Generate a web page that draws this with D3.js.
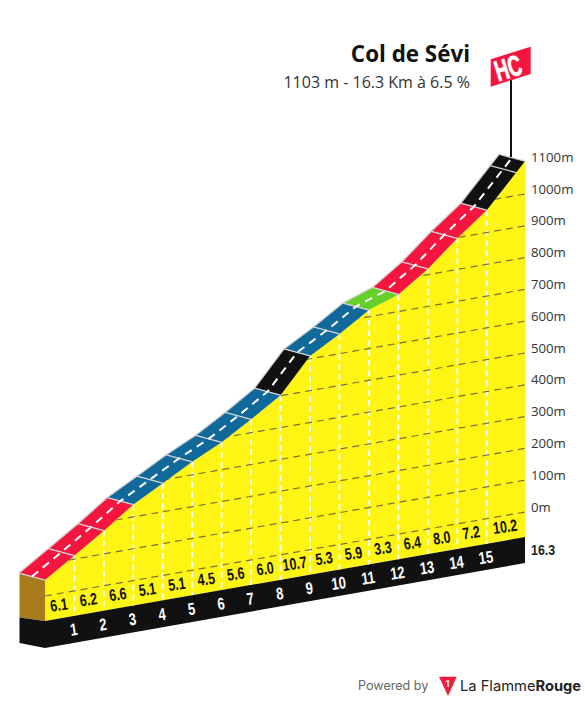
<!DOCTYPE html>
<html>
<head>
<meta charset="utf-8">
<script src="https://cdn.jsdelivr.net/npm/d3@7"></script>
<style>
  html, body { margin: 0; padding: 0; background: #fff; }
  svg { display: block; }
  .narrow { font-family: "Liberation Sans", sans-serif; font-weight: 700; }
  .open { font-family: "Open Sans", sans-serif; }
</style>
</head>
<body>
<svg id="chart" width="585" height="702"></svg>
<script>
// values
var kmMarks = [0, 1, 2, 3, 4, 5, 6, 7, 8, 9, 10, 11, 12, 13, 14, 15, 16.3];
var elevations = [50, 111, 173, 239, 290, 341, 386, 442, 502, 609, 662, 721, 754, 818, 898, 970, 1103];
var gradients = [6.1, 6.2, 6.6, 5.1, 5.1, 4.5, 5.6, 6.0, 10.7, 5.3, 5.9, 3.3, 6.4, 8.0, 7.2, 10.2];
var kmLabels = [1, 2, 3, 4, 5, 6, 7, 8, 9, 10, 11, 12, 13, 14, 15];
var altTicks = [0, 100, 200, 300, 400, 500, 600, 700, 800, 900, 1000, 1100];
var gridTicks = [0, 100, 200, 300, 400, 500, 600, 700, 800, 900, 1000];
var chartTitle = "Col de Sévi";
var chartSubtitle = "1103 m - 16.3 Km à 6.5 %";
var climbCategory = "HC";

var svg = d3.select("#chart");

// the profile is drawn in an oblique view: km moves right and up a little
var xKm = d3.scaleLinear().domain([0, 16.3]).range([45, 525]);
var yBase = d3.scaleLinear().domain([0, 16.3]).range([621, 537]);
var rise = d3.scaleLinear().domain([0, 1100]).range([25, 374.8]);
var yLabel = d3.scaleLinear().domain([0, 1100]).range([507, 157]);
var slopeColor = d3.scaleThreshold().domain([4, 6.05, 9]).range(["#66cf2a", "#10699a", "#f5163f", "#111111"]);

var backX = -26, backY = -7;   // depth of the road
var line = d3.line();

function yAlt(km, alt) { return yBase(km) - rise(alt); }
function topPoint(i) { return [xKm(kmMarks[i]), yAlt(kmMarks[i], elevations[i])]; }
function backPoint(p, f) { return [p[0] + backX * f, p[1] + backY * f]; }

var profile = kmMarks.map(function(k, i) { return topPoint(i); });
var floorLine = kmMarks.map(function(k) { return [xKm(k), yBase(k)]; }).reverse();
var facePoints = profile.concat(floorLine);

// clip for the grid
svg.append("clipPath").attr("id", "face")
   .append("path").attr("d", line(facePoints) + "Z");

// left end of the block
var p0 = profile[0];
svg.append("path")
   .attr("d", line([[19.5, p0[1] - 7], p0, [xKm(0), yBase(0)], [19.5, yBase(0) - 3.5]]) + "Z")
   .attr("fill", "#a87c1c");
svg.append("path")
   .attr("d", line([[19.5, yBase(0) - 3.5], [xKm(0), yBase(0)], [xKm(0), yBase(0) + 27], [19.5, yBase(0) + 22]]) + "Z")
   .attr("fill", "#111111");

// yellow face
svg.append("path").attr("d", line(facePoints) + "Z").attr("fill", "#fff514");

// black km band
svg.append("path")
   .attr("d", line([[xKm(0), yBase(0)], [xKm(16.3), yBase(16.3)], [xKm(16.3), yBase(16.3) + 26], [xKm(0), yBase(0) + 27]]) + "Z")
   .attr("fill", "#111111");

// km verticals
svg.append("g").selectAll("line").data(kmLabels).join("line")
   .attr("x1", function(d) { return xKm(d); })
   .attr("x2", function(d) { return xKm(d); })
   .attr("y1", function(d) { return profile[kmMarks.indexOf(d)][1]; })
   .attr("y2", function(d) { return yBase(d); })
   .attr("stroke", "#fff")
   .attr("stroke-width", 1.8)
   .attr("stroke-dasharray", "6,4");

// altitude grid
svg.append("g").attr("clip-path", "url(#face)")
   .selectAll("line").data(gridTicks).join("line")
   .attr("x1", xKm(0))
   .attr("x2", xKm(16.3))
   .attr("y1", function(d) { return yAlt(0, d); })
   .attr("y2", function(d) { return yAlt(16.3, d); })
   .attr("stroke", "#7a7238")
   .attr("stroke-width", 1.2)
   .attr("stroke-dasharray", "7,5");

// road segments
var road = svg.append("g");
gradients.forEach(function(g, i) {
  var a = profile[i], b = profile[i + 1];
  road.append("path")
      .attr("d", line([a, b, backPoint(b, 1), backPoint(a, 1)]) + "Z")
      .attr("fill", slopeColor(g));
});
// cross lines at each km
profile.forEach(function(p) {
  road.append("path")
      .attr("d", line([p, backPoint(p, 1)]))
      .attr("stroke", "#d4d4d4")
      .attr("stroke-width", 1.3);
});
// km 16 line on the last stretch
var p16 = [xKm(16), yAlt(16, elevations[16] - 0.3 * gradients[15] * 10)];
road.append("path")
    .attr("d", line([p16, backPoint(p16, 1)]))
    .attr("stroke", "#d4d4d4")
    .attr("stroke-width", 1.3);
// back edge
road.append("path")
    .attr("d", line(profile.map(function(p) { return backPoint(p, 1); })))
    .attr("fill", "none")
    .attr("stroke", "#cfcfcf")
    .attr("stroke-width", 1.3);
// centre line
road.append("path")
    .attr("d", line(profile.map(function(p) { return backPoint(p, 0.5); })))
    .attr("fill", "none")
    .attr("stroke", "#fff")
    .attr("stroke-width", 2)
    .attr("stroke-dasharray", "8,6");

// gradient labels, squeezed since no condensed bold is installed
svg.append("g").selectAll("text").data(gradients).join("text")
   .attr("class", "narrow")
   .attr("font-size", 16.5)
   .attr("fill", "#111")
   .attr("text-anchor", "middle")
   .attr("transform", function(d, i) {
     var m = (kmMarks[i] + kmMarks[i + 1]) / 2;
     return "translate(" + xKm(m) + "," + (yBase(m) - 8) + ") rotate(-8) scale(0.76,1)";
   })
   .text(function(d) { return d.toFixed(1); });

// km labels
svg.append("g").selectAll("text").data(kmLabels).join("text")
   .attr("class", "narrow")
   .attr("font-size", 17)
   .attr("fill", "#fff")
   .attr("text-anchor", "middle")
   .attr("transform", function(d) {
     return "translate(" + xKm(d) + "," + (yBase(d) + 19.5) + ") rotate(-8) scale(0.76,1)";
   })
   .text(function(d) { return d; });

// altitude axis
var altAxis = d3.axisRight(yLabel)
   .tickValues(altTicks)
   .tickSize(0)
   .tickPadding(0)
   .tickFormat(function(d) { return d + "m"; });
var gAlt = svg.append("g").attr("transform", "translate(531,0)").call(altAxis);
gAlt.select(".domain").remove();
gAlt.selectAll("text")
    .attr("class", "open")
    .attr("font-size", 13.2)
    .attr("fill", "#333");

svg.append("text")
   .attr("class", "narrow")
   .attr("transform", "translate(531,555) scale(0.8,1)")
   .attr("font-size", 15.5)
   .attr("fill", "#222")
   .text(kmMarks[kmMarks.length - 1]);

// title
svg.append("text")
   .attr("class", "open")
   .attr("x", 470).attr("y", 62)
   .attr("text-anchor", "end")
   .attr("font-size", 22.4)
   .attr("font-weight", 700)
   .attr("fill", "#111")
   .text(chartTitle);
svg.append("text")
   .attr("class", "open")
   .attr("x", 470).attr("y", 88)
   .attr("text-anchor", "end")
   .attr("font-size", 16)
   .attr("fill", "#333")
   .text(chartSubtitle);

// category flag
svg.append("line")
   .attr("x1", 511).attr("x2", 511)
   .attr("y1", 80).attr("y2", 157)
   .attr("stroke", "#111").attr("stroke-width", 2);
svg.append("path")
   .attr("d", "M490.7,59.3L530.7,46.7L530.7,74L490.7,86.7Z")
   .attr("fill", "#f5163f");
svg.append("text")
   .attr("class", "narrow")
   .attr("font-size", 29)
   .attr("fill", "#fff")
   .attr("stroke", "#fff")
   .attr("stroke-width", 0.8)
   .attr("text-anchor", "middle")
   .attr("transform", "translate(511,77.5) rotate(-17) scale(0.64,1)")
   .text(climbCategory);

// footer
svg.append("text")
   .attr("x", 358).attr("y", 690)
   .attr("font-family", "Inter, Roboto, sans-serif")
   .attr("font-size", 12.6)
   .attr("fill", "#666")
   .text("Powered by");
svg.append("path")
   .attr("d", "M439,676.7L456.7,676.7L448,696Z")
   .attr("fill", "#ee1c3f");
svg.append("text")
   .attr("x", 447.8).attr("y", 687)
   .attr("text-anchor", "middle")
   .attr("font-family", "Roboto, sans-serif")
   .attr("font-weight", 700)
   .attr("font-size", 9)
   .attr("fill", "#fff")
   .text("1");
var brand = svg.append("text")
   .attr("x", 460).attr("y", 691)
   .attr("font-family", "Inter, Roboto, sans-serif")
   .attr("font-size", 14.7)
   .attr("fill", "#222");
brand.append("tspan").text("La Flamme");
brand.append("tspan").attr("font-weight", 700).text("Rouge");
</script>
</body>
</html>
